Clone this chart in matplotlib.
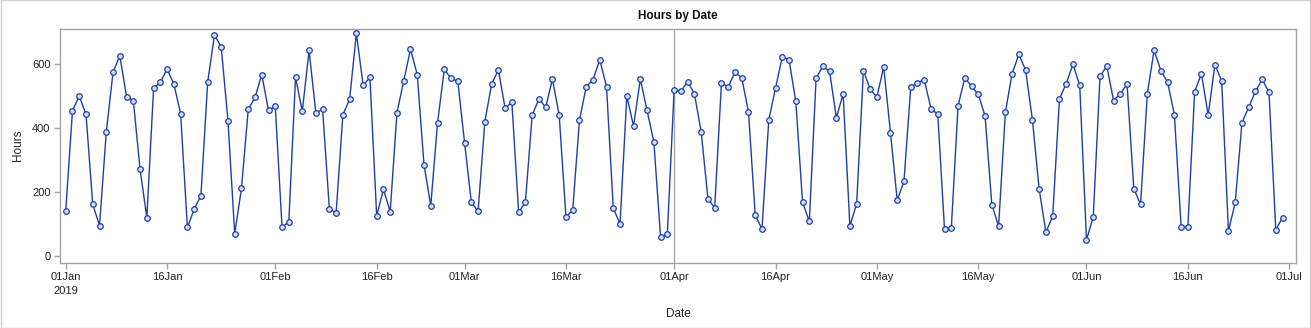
import datetime as dt
import matplotlib
matplotlib.use("Agg")
import matplotlib.pyplot as plt
import matplotlib.dates as mdates
from matplotlib.patches import Rectangle

plt.rcParams['font.family'] = ['Liberation Sans', 'DejaVu Sans']

start = dt.date(2019, 1, 1)

jan = [140, 453, 499, 442, 161, 95, 386, 573, 625, 497, 485, 270, 120, 523, 542,
       583, 536, 444, 89, 146, 188, 542, 689, 653, 422, 70, 211, 457, 495, 566, 454]
feb = [467, 90, 106, 557, 452, 641, 447, 457, 147, 135, 440, 489, 695, 532, 557,
       125, 208, 138, 447, 546, 645, 566, 285, 157, 415, 582, 554, 545]
mar = [354, 168, 139, 419, 536, 581, 461, 479, 136, 168, 439, 490, 464, 552, 439,
       121, 144, 424, 528, 550, 612, 528, 149, 100, 499, 405, 552, 454, 356, 58, 70]
apr = [517, 514, 544, 506, 388, 179, 150, 540, 527, 573, 556, 450, 127, 84, 424,
       524, 621, 612, 482, 167, 108, 554, 592, 576, 431, 506, 94, 163, 578, 520]
may = [496, 590, 385, 174, 233, 526, 541, 550, 459, 442, 83, 86, 468, 556, 529,
       504, 436, 160, 93, 448, 569, 629, 579, 425, 208, 74, 124, 490, 538, 598, 532]
jun = [51, 121, 560, 593, 485, 506, 536, 210, 161, 506, 642, 578, 542, 441, 92,
       92, 512, 569, 439, 597, 545, 78, 167, 416, 464, 514, 551, 510, 82, 120]

hours = jan + feb + mar + apr + may + jun
dates = [start + dt.timedelta(days=i) for i in range(len(hours))]

tick_dates = [dt.date(2019, m, d) for m in range(1, 7) for d in (1, 16)] + [dt.date(2019, 7, 1)]
tick_labels = ["01Jan\n2019", "16Jan", "01Feb", "16Feb", "01Mar", "16Mar", "01Apr",
               "16Apr", "01May", "16May", "01Jun", "16Jun", "01Jul"]
y_ticks = [0, 200, 400, 600]

line_color = "#1E40A0"
frame_color = "#A3A3A3"

fig = plt.figure(figsize=(13.11, 3.28), dpi=100)
ax = fig.add_axes([0.046, 0.199, 0.9426, 0.7135])

ax.axvline(mdates.date2num(dt.date(2019, 4, 1)), color="#A8A8A8", lw=1.0, zorder=1)
ax.plot(dates, hours, color=line_color, lw=1.0, marker="o", ms=4.0,
        mfc=(0.82, 0.87, 0.97), mec=line_color, mew=0.9, zorder=3)

ax.set_xlim(mdates.date2num(start) - 0.8, mdates.date2num(start) + 182.0)
ax.set_ylim(-21, 709)
ax.set_xticks([mdates.date2num(d) for d in tick_dates])
ax.set_xticklabels(tick_labels, linespacing=1.5)
ax.set_yticks(y_ticks)
ax.tick_params(axis="both", direction="out", length=4, width=1, color=frame_color,
               labelsize=8, labelcolor="#222222", pad=3)
for s in ax.spines.values():
    s.set_color(frame_color)
    s.set_linewidth(1)

ax.set_ylabel("Hours", fontsize=8.5, color="#222222", labelpad=6)
ax.set_xlabel("Date", fontsize=8.5, color="#222222", labelpad=8)
ax.set_title("Hours by Date", fontsize=8.5, fontweight="bold", color="#111111", pad=7)

fig.patches.append(Rectangle((0.0005, 0.0015), 0.999, 0.997, transform=fig.transFigure,
                             fill=False, edgecolor="#D0D0D0", lw=1))

fig.savefig("out.png", dpi=100)
